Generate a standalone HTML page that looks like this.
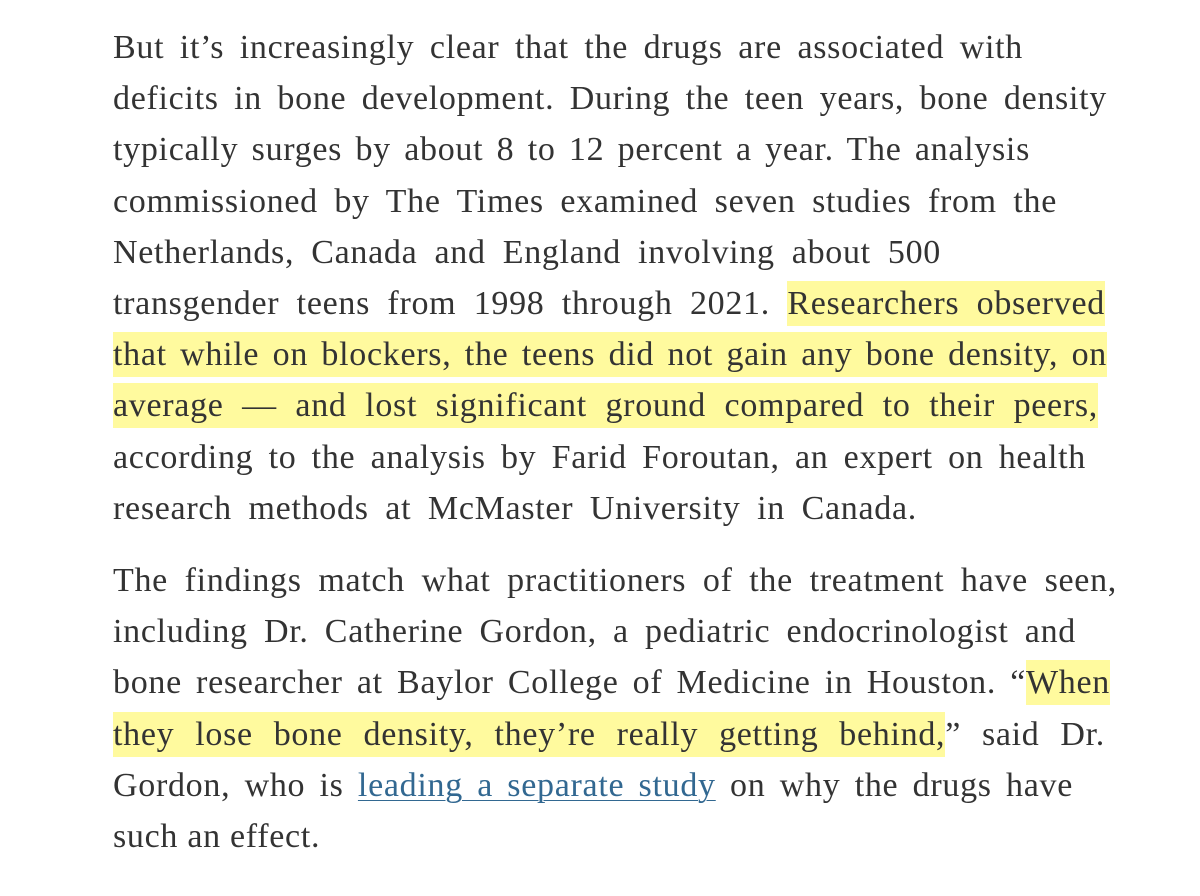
<!DOCTYPE html>
<html><head><meta charset="utf-8">
<style>
html,body{margin:0;padding:0;background:#fff;width:1200px;height:896px;overflow:hidden}
.p{position:absolute;left:113px;font-family:"Liberation Serif",serif;font-size:34px;letter-spacing:0.7px;color:#333;}
.l{display:block;height:51.2px;line-height:51.2px;white-space:nowrap;text-align:justify;text-align-last:justify;}
.h{background:#fffa9e;padding:4px 0;}
a{color:#326891;text-decoration:underline;text-underline-offset:4px;text-decoration-thickness:1px;}
</style></head><body>
<div class="p" style="top:22px">
<span class="l" style="width:910px">But it’s increasingly clear that the drugs are associated with</span>
<span class="l" style="width:994px">deficits in bone development. During the teen years, bone density</span>
<span class="l" style="width:917px">typically surges by about 8 to 12 percent a year. The analysis</span>
<span class="l" style="width:944px">commissioned by The Times examined seven studies from the</span>
<span class="l" style="width:828px">Netherlands, Canada and England involving about 500</span>
<span class="l" style="width:992px">transgender teens from 1998 through 2021. <span class="h">Researchers observed</span></span>
<span class="l" style="width:994px"><span class="h">that while on blockers, the teens did not gain any bone density, on</span></span>
<span class="l" style="width:985px"><span class="h">average — and lost significant ground compared to their peers,</span></span>
<span class="l" style="width:973px">according to the analysis by Farid Foroutan, an expert on health</span>
<span class="l" style="width:804px">research methods at McMaster University in Canada.</span>
</div>
<div class="p" style="top:555px">
<span class="l" style="width:1004px">The findings match what practitioners of the treatment have seen,</span>
<span class="l" style="width:963px">including Dr. Catherine Gordon, a pediatric endocrinologist and</span>
<span class="l" style="width:997px">bone researcher at Baylor College of Medicine in Houston. “<span class="h">When</span></span>
<span class="l" style="width:992px"><span class="h">they lose bone density, they’re really getting behind,</span>” said Dr.</span>
<span class="l" style="width:960px">Gordon, who is <a>leading a separate study</a> on why the drugs have</span>
<span class="l" style="width:217px;text-align-last:left">such an effect.</span>
</div>
</body></html>
